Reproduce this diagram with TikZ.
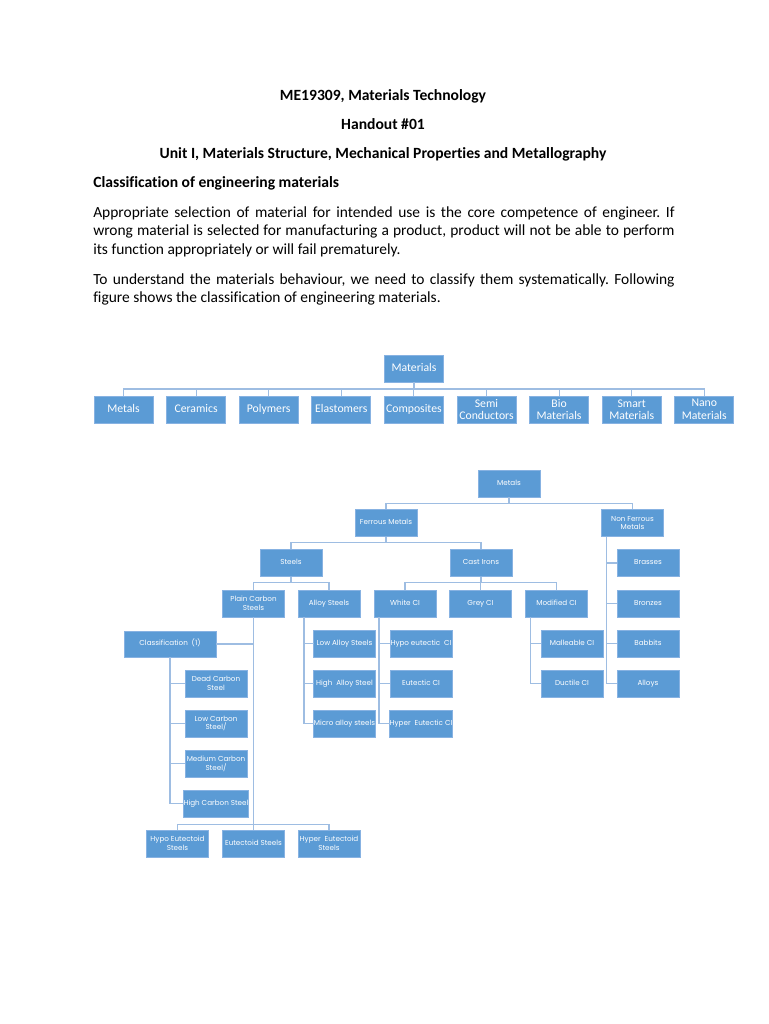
\documentclass[tikz,border=0pt]{standalone}
\usepackage{fontspec}
\setmainfont{Carlito}[Ligatures={NoCommon,NoContextual}]
\newfontfamily\chartfont{Poppins}
\definecolor{boxblue}{RGB}{91,155,213}
\definecolor{boxedge}{RGB}{135,178,226}
\definecolor{linkblue}{RGB}{158,189,226}
\frenchspacing
\begin{document}
\begin{tikzpicture}[x=0.75pt,y=-0.75pt,
  ln/.style={draw=linkblue,line width=0.8pt},
  boxbase/.style={fill=boxblue,draw=boxedge,line width=0.5pt,text=white,inner sep=0pt,outer sep=0pt,align=center},
  boxA/.style={boxbase,minimum width=44.25pt,minimum height=20.25pt,
    font=\fontsize{8.8}{9.4}\selectfont},
  boxA1/.style={boxA,text height=6.3pt,text depth=1.9pt},
  boxB/.style={boxbase,minimum width=46.5pt,minimum height=20.4pt,
    font=\chartfont\fontsize{5.4}{6.6}\selectfont},
  boxB1/.style={boxB,text height=4pt,text depth=1.3pt},
  title/.style={font=\bfseries\fontsize{11.7}{13.9}\selectfont,anchor=base,inner sep=0pt},
  body/.style={font=\fontsize{11.6}{13.9}\selectfont,anchor=base west,inner sep=0pt,text width=436pt,align=justify}
]
\useasboundingbox (0,0) rectangle (768,1024);
\fill[white] (0,0) rectangle (768,1024);

% ---------- text ----------
\node[title] (t1) at (383,100) {ME19309, Materials Technology};
\node[title] (t2) at (383,129.5) {Handout \#01};
\node[title] (t3) at (383,158.5) {Unit I, Materials Structure, Mechanical Properties and Metallography};
\node[title,anchor=base west] (t4) at (93,187.5) {Classification of engineering materials};
\node[body] (p1) at (93,217) {\hyphenpenalty=10000 Appropriate selection of material for intended use is the core competence of engineer. If\linebreak wrong material is selected for manufacturing a product, product will not be able to perform\linebreak its function appropriately or will fail prematurely.};
\node[body] (p2) at (93,284) {\hyphenpenalty=10000 To understand the materials behaviour, we need to classify them systematically. Following\linebreak figure shows the classification of engineering materials.};

% ---------- chart 1 ----------
\node[boxA1] (mat) at (414,368.5) {Materials};
\node[boxA1] (c1) at (123.5,409.5) {Metals};
\node[boxA1] (c2) at (196.1,409.5) {Ceramics};
\node[boxA1] (c3) at (268.7,409.5) {Polymers};
\node[boxA1] (c4) at (341.3,409.5) {Elastomers};
\node[boxA1] (c5) at (413.9,409.5) {Composites};
\node[boxA] (c6) at (486.5,409.5) {Semi\\Conductors};
\node[boxA] (c7) at (559.1,409.5) {Bio\\Materials};
\node[boxA] (c8) at (631.7,409.5) {Smart\\Materials};
\node[boxA] (c9) at (704.3,409.5) {Nano\\Materials};
\draw[ln] (mat.south) -- ++(0,7) coordinate (bus1);
\foreach \c in {c1,c2,c3,c4,c5,c6,c7,c8,c9} \draw[ln] (\c.north) |- (bus1);

% ---------- chart 2 ----------
\node[boxB1] (m2) at (509,483.5) {Metals};
\node[boxB1] (fer) at (386,523) {Ferrous Metals};
\node[boxB] (nfer) at (632.5,523) {Non Ferrous\\Metals};
\node[boxB1] (stl) at (291,563) {Steels};
\node[boxB1] (ci) at (481,563) {Cast Irons};
\node[boxB] (pcs) at (253.5,603.5) {Plain Carbon\\Steels};
\node[boxB1] (als) at (329,603.5) {Alloy Steels};
\node[boxB1] (wci) at (405,603.5) {White CI};
\node[boxB1] (gci) at (480.5,603.5) {Grey CI};
\node[boxB1] (mci) at (556.5,603.5) {Modified CI};
% non ferrous children
\node[boxB1] (nf1) at (648,563) {Brasses};
\node[boxB1] (nf2) at (648,603.5) {Bronzes};
\node[boxB1] (nf3) at (648,643.5) {Babbits};
\node[boxB1] (nf4) at (648,683.5) {Alloys};
% classification
\node[boxB1,minimum width=69pt,minimum height=19.5pt] (cls) at (170,644) {Classification~~(1)};
\node[boxB] (cl1) at (216,683.5) {Dead Carbon\\Steel};
\node[boxB] (cl2) at (216,723.5) {Low Carbon\\Steel/};
\node[boxB] (cl3) at (216,763.5) {Medium Carbon\\Steel/};
\node[boxB1] (cl4) at (216,803.5) {High Carbon Steel};
% alloy steels children
\node[boxB1] (as1) at (344.5,643.5) {Low Alloy Steels};
\node[boxB1] (as2) at (344.5,683.5) {High~~Alloy Steel};
\node[boxB1] (as3) at (344.5,723.5) {Micro alloy steels};
% white CI children
\node[boxB1] (w1) at (421,643.5) {Hypo eutectic~~CI};
\node[boxB1] (w2) at (421,683.5) {Eutectic CI};
\node[boxB1] (w3) at (421,723.5) {Hyper~~Eutectic CI};
% modified CI children
\node[boxB1] (mc1) at (572,643.5) {Malleable CI};
\node[boxB1] (mc2) at (572,683.5) {Ductile CI};
% bottom
\node[boxB] (b1) at (177.5,843.5) {Hypo Eutectoid\\Steels};
\node[boxB1] (b2) at (253.5,843.5) {Eutectoid Steels};
\node[boxB] (b3) at (329,843.5) {Hyper~~Eutectoid\\Steels};

% connectors chart 2
\draw[ln] (m2.south) -- ++(0,6) coordinate (bus2);
\draw[ln] (fer.north) |- (bus2);
\draw[ln] (nfer.north) |- (bus2);
\draw[ln] (fer.south) -- ++(0,6) coordinate (bus3);
\draw[ln] (stl.north) |- (bus3);
\draw[ln] (ci.north) |- (bus3);
\draw[ln] (stl.south) -- ++(0,6) coordinate (bus4);
\draw[ln] (pcs.north) |- (bus4);
\draw[ln] (als.north) |- (bus4);
\draw[ln] (ci.south) -- ++(0,6) coordinate (bus5);
\draw[ln] (wci.north) |- (bus5);
\draw[ln] (gci.north) |- (bus5);
\draw[ln] (mci.north) |- (bus5);
\foreach \c in {nf1,nf2,nf3,nf4} \draw[ln] (\c.west) -| ([xshift=3.75pt]nfer.south west);
\foreach \c in {as1,as2,as3} \draw[ln] (\c.west) -| ([xshift=4.5pt]als.south west);
\foreach \c in {w1,w2,w3} \draw[ln] (\c.west) -| ([xshift=3.75pt]wci.south west);
\foreach \c in {mc1,mc2} \draw[ln] (\c.west) -| ([xshift=3.75pt]mci.south west);
\foreach \c in {cl1,cl2,cl3,cl4} \draw[ln] (\c.west) -| (cls.south);
\draw[ln] (cls.east) -- (cls.east -| pcs.south);
\draw[ln] (pcs.south) -- ++(0,207) coordinate (bus6);
\foreach \c in {b1,b2,b3} \draw[ln] (\c.north) |- (bus6);
\end{tikzpicture}
\end{document}
